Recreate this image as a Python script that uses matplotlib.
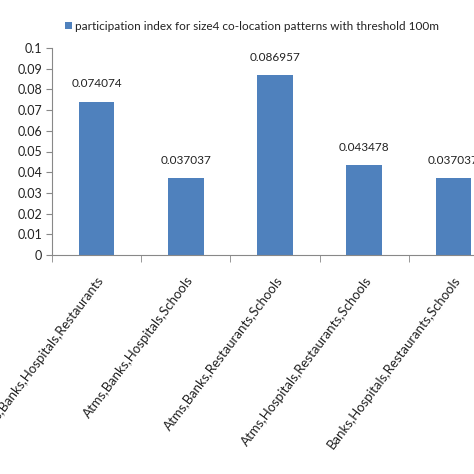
#!/usr/bin/env python3
"""Participation index bar chart"""

import matplotlib
matplotlib.use('Agg')
import matplotlib.pyplot as plt

categories = [
  'Atms,Banks,Hospitals,Restaurants',
  'Atms,Banks,Hospitals,Schools',
  'Atms,Banks,Restaurants,Schools',
  'Atms,Hospitals,Restaurants,Schools',
  'Banks,Hospitals,Restaurants,Schools',
]
values = [0.074074, 0.037037, 0.086957, 0.043478, 0.037037]
value_labels = ['0.074074', '0.037037', '0.086957', '0.043478', '0.037037']
y_ticks = [0, 0.01, 0.02, 0.03, 0.04, 0.05, 0.06, 0.07, 0.08, 0.09, 0.1]
series_name = 'participation index for size4 co-location patterns with threshold 100m'

plt.rcParams['font.family'] = ['Lato', 'DejaVu Sans']
bar_color = '#4f81bd'
axis_grey = '#888888'
text_color = '#222222'

fig = plt.figure(figsize=(4.74, 4.74), dpi=100)
ax = fig.add_axes([52 / 474, 1 - 255 / 474, 446 / 474, 207 / 474])

x = list(range(len(categories)))
bars = ax.bar(x, values, width=0.4, color=bar_color, label=series_name, zorder=2)

for xi, v, lab in zip(x, values, value_labels):
  ax.text(xi, v + 0.006, lab, ha='center', va='bottom', fontsize=8.5, color=text_color)

ax.set_xlim(-0.5, len(categories) - 0.5)
ax.set_ylim(0, 0.1)
ax.set_yticks(y_ticks)
ax.set_yticklabels(['0' if t == 0 else ('%g' % t) for t in y_ticks], fontsize=9, color=text_color)

ax.set_xticks(x)
ax.set_xticklabels(categories, rotation=53, ha='right', va='top', rotation_mode='anchor',
                   fontsize=9.5, color=text_color)
ax.tick_params(axis='x', length=0, pad=14)
ax.set_xticks([i + 0.5 for i in range(-1, len(categories))], minor=True)
ax.tick_params(axis='x', which='minor', length=5, color=axis_grey, direction='out')
ax.tick_params(axis='y', length=4, color=axis_grey, direction='out', pad=3)

for side in ['top', 'right']:
  ax.spines[side].set_visible(False)
for side in ['left', 'bottom']:
  ax.spines[side].set_color(axis_grey)
  ax.spines[side].set_linewidth(0.8)

fig.legend(handles=[bars], labels=[series_name], loc='center', bbox_to_anchor=(0.532, 0.945),
           frameon=False, fontsize=8.5, handlelength=0.6, handleheight=0.6, handletextpad=0.3,
           labelcolor=text_color)

fig.savefig('out.png', dpi=100)
